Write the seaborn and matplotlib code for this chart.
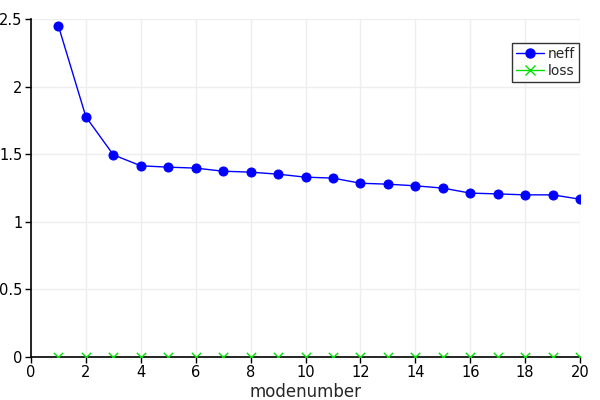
import matplotlib

matplotlib.use("Agg")
import matplotlib.pyplot as plt
import numpy as np
import pandas as pd
import seaborn as sns
from matplotlib.lines import Line2D

modenumber = list(range(1, 21))
neff = [2.449, 1.777, 1.496, 1.415, 1.405, 1.398, 1.375, 1.368, 1.353, 1.331,
        1.324, 1.286, 1.279, 1.267, 1.250, 1.213, 1.207, 1.200, 1.200, 1.168]
loss = [0.0] * 20

x_ticks = [0, 2, 4, 6, 8, 10, 12, 14, 16, 18, 20]
y_ticks = [0, 0.5, 1, 1.5, 2, 2.5]
y_labels = ["0", "0.5", "1", "1.5", "2", "2.5"]

BLUE = "#0000ff"
GREEN = "#00e000"


def main() -> None:
    df = pd.DataFrame({"modenumber": modenumber, "neff": neff, "loss": loss})

    sns.set_style("white")
    plt.rcParams["font.family"] = ["DejaVu Sans"]

    fig = plt.figure(figsize=(6, 4), dpi=100)
    ax = fig.add_axes([0.0517, 0.1075, 0.915, 0.8445])

    sns.lineplot(data=df, x="modenumber", y="neff", ax=ax, color=BLUE,
                 marker="o", markersize=6.5, markeredgecolor=BLUE,
                 linewidth=1, legend=False)
    pts = sns.scatterplot(data=df, x="modenumber", y="loss", ax=ax,
                          color=GREEN, marker="x", s=45, linewidth=1,
                          legend=False, zorder=3)
    for coll in ax.collections:
        coll.set_clip_on(True)
        coll.set_clip_box(ax.bbox)

    ax.set_xlim(0, 20)
    ax.set_ylim(0, 2.5)
    ax.set_xticks(x_ticks)
    ax.set_yticks(y_ticks)
    ax.set_yticklabels(y_labels)
    ax.grid(True, color="#eeeeee", linewidth=1)
    ax.set_axisbelow(True)

    for side in ["top", "right"]:
        ax.spines[side].set_visible(False)
    for side in ["left", "bottom"]:
        ax.spines[side].set_color("black")
        ax.spines[side].set_linewidth(1.2)
    ax.tick_params(axis="both", direction="out", length=4, width=1,
                   colors="black", labelsize=10.5, pad=2, bottom=True, left=True)

    ax.set_xlabel("modenumber", fontsize=12, labelpad=2)
    ax.set_ylabel("")

    handles = [
        Line2D([], [], color=BLUE, linewidth=1, marker="o", markersize=6.5),
        Line2D([], [], color=GREEN, linewidth=1, marker="x", markersize=7),
    ]
    leg = ax.legend(handles, ["neff", "loss"], loc="upper right",
                    bbox_to_anchor=(0.999, 0.93), fontsize=10, frameon=True,
                    fancybox=False, handlelength=2.0, handletextpad=0.3,
                    borderpad=0.3, labelspacing=0.2, borderaxespad=0)
    leg.get_frame().set_edgecolor("black")
    leg.get_frame().set_linewidth(1)

    fig.savefig("out.png", dpi=100)


if __name__ == "__main__":
    main()
